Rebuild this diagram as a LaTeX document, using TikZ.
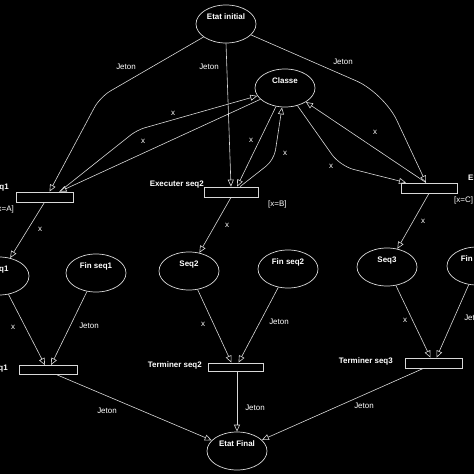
\documentclass[tikz,border=0pt]{standalone}
\usepackage{fontspec}
\setmainfont{Liberation Sans}
\usetikzlibrary{shapes.geometric, arrows.meta}

\definecolor{ink}{gray}{0.85}

\tikzset{
  place/.style = {ellipse, draw=ink, line width=0.7bp, minimum width=60bp, minimum height=38bp,
                  inner sep=0pt, text depth=14bp, text=white, font=\fontsize{8}{9}\selectfont\bfseries},
  trans/.style = {rectangle, draw=ink, line width=0.7bp, minimum width=56bp, minimum height=10bp, inner sep=0pt},
  arc/.style   = {draw=ink, line width=0.6bp, -{Triangle[open, length=7bp, width=6bp]}},
  lbl/.style   = {text=white, font=\fontsize{8}{9}\selectfont, inner sep=1bp},
  tname/.style = {lbl, font=\fontsize{8}{9}\selectfont\bfseries}
}

\begin{document}
\begin{tikzpicture}[x=1bp, y=-1bp]
  \useasboundingbox (0,0) rectangle (474,474);
  \fill[black] (0,0) rectangle (474,474);
  \clip (0,0) rectangle (474,474);

  % places
  \node[place] (init)   at (226,24)  {Etat initial};
  \node[place] (classe) at (285,88)  {Classe};
  \node[place] (seqa)   at (-1,276)  {Seq1};
  \node[place] (fina)   at (96,273)  {Fin seq1};
  \node[place] (seqb)   at (189,271) {Seq2};
  \node[place] (finb)   at (288,269) {Fin seq2};
  \node[place] (seqc)   at (387,267) {Seq3};
  \node[place] (finc)   at (477,266) {Fin seq3};
  \node[place] (final)  at (237,451) {Etat Final};

  % transitions
  \node[trans, minimum width=57bp] (exa) at (44.5,197) {};
  \node[trans, minimum width=54bp] (exb) at (231,192)  {};
  \node[trans]                     (exc) at (429,188)  {};
  \node[trans, minimum width=58bp, minimum height=9bp] (tea) at (48,370)    {};
  \node[trans, minimum width=55bp, minimum height=8bp] (teb) at (235.5,367) {};
  \node[trans, minimum width=57bp]                     (tec) at (433.5,363) {};

  \node[tname, anchor=east] (exatxt) at (10,188)  {Executer seq1};
  \node[lbl,   anchor=east] (exagrd) at (15,209)  {[x=A]};
  \node[tname, anchor=east] (exbtxt) at (205,185) {Executer seq2};
  \node[lbl,   anchor=west] (exbgrd) at (267,204) {[x=B]};
  \node[tname, anchor=west] (exctxt) at (467,179) {Executer seq3};
  \node[lbl,   anchor=west] (excgrd) at (453,200) {[x=C]};
  \node[tname, anchor=east] (teatxt) at (9,368)   {Terminer seq1};
  \node[tname, anchor=east] (tebtxt) at (203,365) {Terminer seq2};
  \node[tname, anchor=east] (tectxt) at (394,361) {Terminer seq3};

  % arcs
  \draw[arc, rounded corners=12bp] (init) -- (100,97) -- ([xshift=5bp]exa.north);
  \draw[arc] (init.south) -- (exb.north);
  \draw[arc, rounded corners=30bp] (init) -- (384,93) -- ([xshift=-3bp]exc.north);

  \draw[arc, rounded corners=8bp] ([xshift=15bp]exa.north) -- (137,130) -- (classe);
  \draw[arc] (classe) -- ([xshift=15bp]exa.north);
  \draw[arc] (classe) -- ([xshift=6bp]exb.north);
  \draw[arc, rounded corners=10bp] ([xshift=9bp]exb.north) -- (274,160) -- ([xshift=-3bp]classe.south);
  \draw[arc, rounded corners=14bp] (classe) -- (340,166) -- ([xshift=-23bp]exc.north);
  \draw[arc] ([xshift=-3bp]exc.north) -- (classe);

  \draw[arc] (exa.south) -- (seqa);
  \draw[arc] (exb.south) -- (seqb);
  \draw[arc] (exc.south) -- (seqc);

  \draw[arc] (seqa) -- ([xshift=-3bp]tea.north);
  \draw[arc] (fina) -- ([xshift=3bp]tea.north);
  \draw[arc] (seqb) -- ([xshift=-4bp]teb.north);
  \draw[arc] (finb) -- ([xshift=3bp]teb.north);
  \draw[arc] (seqc) -- ([xshift=-3bp]tec.north);
  \draw[arc] (finc) -- ([xshift=3bp]tec.north);

  \draw[arc] ([xshift=9bp]tea.south) -- (final);
  \draw[arc] (teb.south -| final.north) -- (final.north);
  \draw[arc] ([xshift=-10bp]tec.south) -- (final);

  % arc labels
  \foreach \p/\t [count=\i] in {{(126,67)}/Jeton, {(209,67)}/Jeton, {(343,62)}/Jeton,
      {(173,113)}/x, {(143,141)}/x, {(251,140)}/x, {(285,153)}/x, {(331,166)}/x, {(375,132)}/x,
      {(40,229)}/x, {(227,225)}/x, {(423,221)}/x,
      {(13,327)}/x, {(89,326)}/Jeton, {(203,324)}/x, {(279,322)}/Jeton, {(405,320)}/x, {(474,318)}/Jeton,
      {(107,411)}/Jeton, {(255,408)}/Jeton, {(364,406)}/Jeton}
    \node[lbl] (lab\i) at \p {\t};
\end{tikzpicture}
\end{document}
